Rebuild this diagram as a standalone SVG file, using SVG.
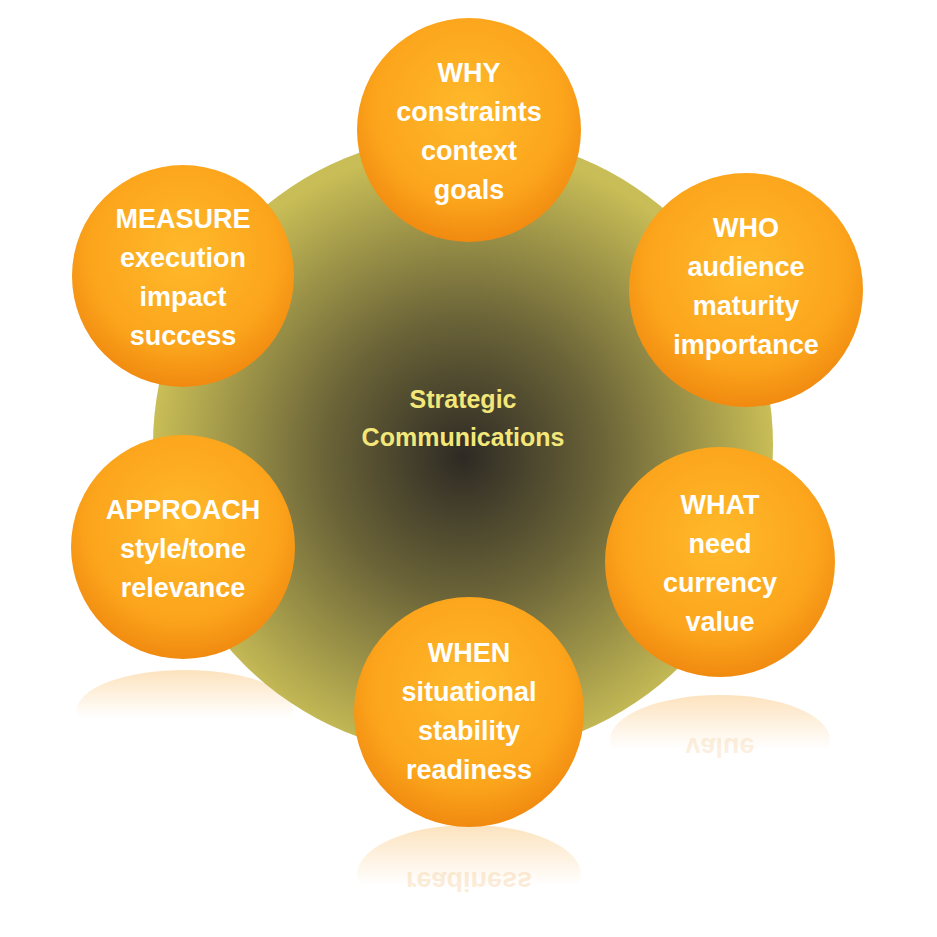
<svg xmlns="http://www.w3.org/2000/svg" width="937" height="937" viewBox="0 0 937 937">
<defs>
<radialGradient id="hub" cx="0.5" cy="0.52" r="0.5">
<stop offset="0" stop-color="#2e2a24"/><stop offset="0.45" stop-color="#6b6438"/><stop offset="1" stop-color="#c8bd56"/>
</radialGradient>
<radialGradient id="ball" cx="0.5" cy="0.4" r="0.6">
<stop offset="0" stop-color="#ffb92a"/><stop offset="0.7" stop-color="#fca51c"/><stop offset="1" stop-color="#f08a10"/>
</radialGradient>
<linearGradient id="fade" x1="0" y1="0" x2="0" y2="1">
<stop offset="0" stop-color="#f6a025" stop-opacity="0.3"/><stop offset="0.6" stop-color="#f6a025" stop-opacity="0"/>
</linearGradient>
<style>
.n{fill:url(#ball)}
.t{font-family:"Liberation Sans",Arial,sans-serif;font-weight:bold;font-size:27px;fill:#fff;text-anchor:middle}
.r{fill:url(#fade)}
</style>
</defs>
<rect width="937" height="937" fill="#fff"/>
<g id="reflections">
<ellipse class="r" cx="469" cy="875" rx="112" ry="50"/>
<ellipse class="r" cx="720" cy="740" rx="110" ry="45"/>
<ellipse class="r" cx="185" cy="710" rx="108" ry="40"/>
<text x="469" y="-872" transform="scale(1,-1)" class="t" style="fill:#f4c890;fill-opacity:0.35">readiness</text>
<text x="720" y="-738" transform="scale(1,-1)" class="t" style="fill:#f4c890;fill-opacity:0.3">value</text>
</g>
<g id="hub-node">
<circle cx="463" cy="445" r="310" fill="url(#hub)"/>
<text x="463" y="408" class="t" style="fill:#f3e77a;font-size:25px">Strategic</text>
<text x="463" y="446" class="t" style="fill:#f3e77a;font-size:25px">Communications</text>
</g>
<g id="connectors"></g>
<g id="why"><circle class="n" cx="469" cy="130" r="112"/>
<text class="t" x="469" y="82">WHY</text><text class="t" x="469" y="121">constraints</text><text class="t" x="469" y="160">context</text><text class="t" x="469" y="199">goals</text></g>
<g id="who"><circle class="n" cx="746" cy="290" r="117"/>
<text class="t" x="746" y="237">WHO</text><text class="t" x="746" y="276">audience</text><text class="t" x="746" y="315">maturity</text><text class="t" x="746" y="354">importance</text></g>
<g id="what"><circle class="n" cx="720" cy="562" r="115"/>
<text class="t" x="720" y="514">WHAT</text><text class="t" x="720" y="553">need</text><text class="t" x="720" y="592">currency</text><text class="t" x="720" y="631">value</text></g>
<g id="when"><circle class="n" cx="469" cy="712" r="115"/>
<text class="t" x="469" y="662">WHEN</text><text class="t" x="469" y="701">situational</text><text class="t" x="469" y="740">stability</text><text class="t" x="469" y="779">readiness</text></g>
<g id="approach"><circle class="n" cx="183" cy="547" r="112"/>
<text class="t" x="183" y="519">APPROACH</text><text class="t" x="183" y="558">style/tone</text><text class="t" x="183" y="597">relevance</text></g>
<g id="measure"><circle class="n" cx="183" cy="276" r="111"/>
<text class="t" x="183" y="228">MEASURE</text><text class="t" x="183" y="267">execution</text><text class="t" x="183" y="306">impact</text><text class="t" x="183" y="345">success</text></g>
</svg>
